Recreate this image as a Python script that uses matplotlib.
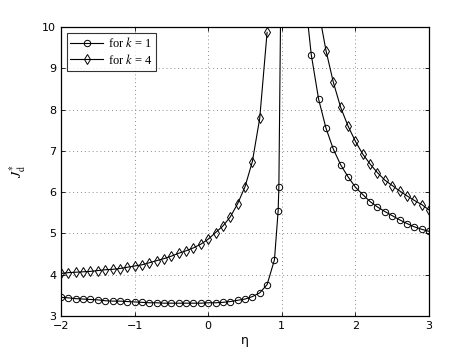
import numpy as np
import matplotlib
matplotlib.use('Agg')
import matplotlib.pyplot as plt

plt.rcParams['font.family'] = ['DejaVu Sans']
plt.rcParams['mathtext.fontset'] = 'stix'

# k = 1 (circles): left branch up to the pole near eta = 1, right branch from ~1.3
eta_k1_left = [-2.0, -1.9, -1.8, -1.7, -1.6, -1.5, -1.4, -1.3, -1.2, -1.1,
               -1.0, -0.9, -0.8, -0.7, -0.6, -0.5, -0.4, -0.3, -0.2, -0.1,
               0.0, 0.1, 0.2, 0.3, 0.4, 0.5, 0.6, 0.7, 0.8, 0.9, 0.95, 0.96, 0.99]
jd_k1_left = [3.45, 3.44, 3.42, 3.41, 3.40, 3.39, 3.37, 3.36, 3.36, 3.35,
              3.34, 3.33, 3.32, 3.32, 3.31, 3.31, 3.31, 3.31, 3.31, 3.31,
              3.32, 3.32, 3.33, 3.35, 3.38, 3.41, 3.47, 3.56, 3.76, 4.36, 5.54, 6.13, 11.5]
eta_k1_right = [1.3, 1.4, 1.5, 1.6, 1.7, 1.8, 1.9, 2.0, 2.1, 2.2,
                2.3, 2.4, 2.5, 2.6, 2.7, 2.8, 2.9, 3.0]
jd_k1_right = [11.0, 9.33, 8.25, 7.55, 7.04, 6.66, 6.37, 6.12, 5.94, 5.77,
               5.64, 5.53, 5.43, 5.33, 5.24, 5.16, 5.10, 5.05]

# k = 4 (diamonds)
eta_k4_left = [-2.0, -1.9, -1.8, -1.7, -1.6, -1.5, -1.4, -1.3, -1.2, -1.1,
               -1.0, -0.9, -0.8, -0.7, -0.6, -0.5, -0.4, -0.3, -0.2, -0.1,
               0.0, 0.1, 0.2, 0.3, 0.4, 0.5, 0.6, 0.7, 0.8]
jd_k4_left = [4.03, 4.05, 4.06, 4.07, 4.08, 4.10, 4.12, 4.13, 4.15, 4.18,
              4.21, 4.24, 4.29, 4.34, 4.39, 4.45, 4.52, 4.58, 4.65, 4.74,
              4.86, 5.02, 5.18, 5.40, 5.72, 6.13, 6.74, 7.79, 9.87]
eta_k4_right = [1.5, 1.6, 1.7, 1.8, 1.9, 2.0, 2.1, 2.2, 2.3, 2.4,
                2.5, 2.6, 2.7, 2.8, 2.9, 3.0]
jd_k4_right = [10.4, 9.43, 8.66, 8.05, 7.60, 7.23, 6.92, 6.68, 6.47, 6.29,
               6.16, 6.03, 5.91, 5.80, 5.70, 5.57]

labels = [r'for $k$ = 1', r'for $k$ = 4']

# join branches with a NaN gap so each series is one line
eta_k1 = eta_k1_left + [np.nan] + eta_k1_right
jd_k1 = jd_k1_left + [np.nan] + jd_k1_right
eta_k4 = eta_k4_left + [np.nan] + eta_k4_right
jd_k4 = jd_k4_left + [np.nan] + jd_k4_right

fig = plt.figure(figsize=(4.74, 3.55), dpi=100)
ax = fig.add_axes([0.1287, 0.1099, 0.7764, 0.8141])

ax.plot(eta_k1, jd_k1, 'k-o', lw=0.8, markersize=4.6, markerfacecolor='none',
        markeredgewidth=0.7, label=labels[0])
ax.plot(eta_k4, jd_k4, 'k-d', lw=0.8, markersize=5.0, markerfacecolor='none',
        markeredgewidth=0.7, label=labels[1])

ax.set_xlim(-2, 3)
ax.set_ylim(3, 10)
ax.set_xticks([-2, -1, 0, 1, 2, 3])
ax.set_xticklabels(['\u22122', '\u22121', '0', '1', '2', '3'])
ax.set_yticks(range(3, 11))
ax.tick_params(direction='in', top=True, right=True, labelsize=8, length=3, width=0.6)
ax.grid(True, linestyle=(0, (1, 3)), color='0.55', lw=0.7)
for s in ax.spines.values():
    s.set_linewidth(0.9)

ax.set_xlabel('\u03b7', fontsize=9, labelpad=2)
ax.set_ylabel(r'$J^{*}_{\mathrm{d}}$', fontsize=10)
ax.yaxis.set_label_coords(-0.09, 0.5)

leg = ax.legend(loc='upper left', frameon=True, fancybox=False,
                prop={'family': 'Liberation Serif', 'size': 9},
                edgecolor='k', handlelength=2.6, handletextpad=0.4,
                borderaxespad=0.45, labelspacing=0.2, borderpad=0.3)
leg.get_frame().set_linewidth(0.8)

plt.savefig('out.png', dpi=100)
